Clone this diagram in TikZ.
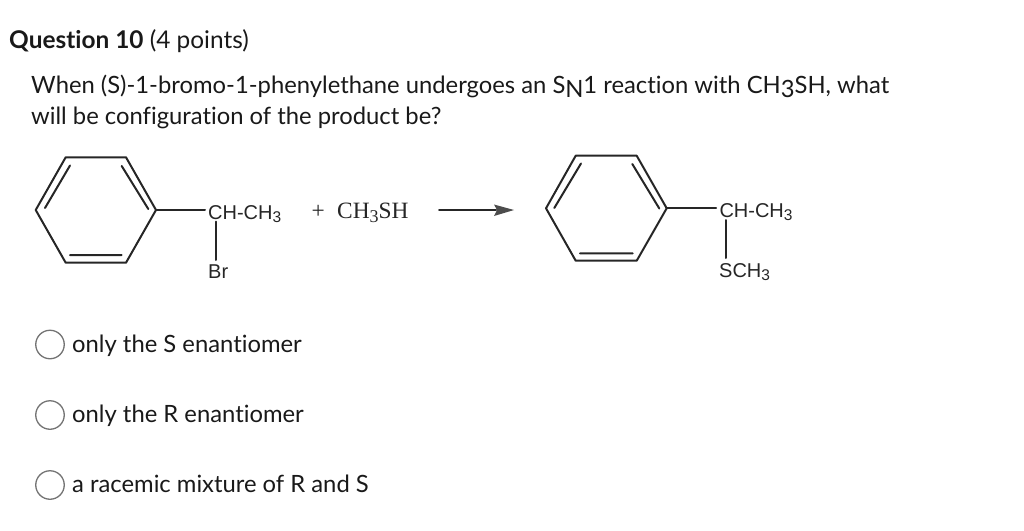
\documentclass[tikz,border=0pt]{standalone}
\usepackage{fontspec}
\setmainfont[Ligatures=NoCommon]{Lato}
\newfontfamily\arialf{Liberation Sans}
\newfontfamily\timesf{Liberation Serif}
\begin{document}
\begin{tikzpicture}[x=1pt,y=-1pt,
  txt/.style={anchor=base west,inner sep=0pt,font=\fontsize{23.8}{28}\selectfont,text=black!90},
  chem/.style={anchor=base west,inner sep=0pt,font=\arialf\fontsize{20}{24}\selectfont,text=black!85},
  rxn/.style={anchor=base west,inner sep=0pt,font=\timesf\fontsize{23.4}{28}\selectfont,text=black!85},
  bond/.style={line width=2pt,black!85,line cap=round,line join=round},
  radio/.style={circle,draw=black!55,line width=1.3pt,fill=white,minimum size=28.5pt,inner sep=0pt}]
\useasboundingbox (0,0) rectangle (1024,530);
% text
\node[txt,font=\fontsize{24.4}{28}\selectfont] (q) at (9,48) {\textbf{Question 10} (4 points)};
\node[txt] (l1) at (31,93) {When (S)-1-bromo-1-phenylethane undergoes an S\raisebox{-4pt}{N}1 reaction with CH\raisebox{-4pt}{3}SH, what};
\node[txt] (l2) at (31,124.5) {will be configuration of the product be?};
% left ring
\coordinate (a1) at (35.7,210); \coordinate (a2) at (65.7,157.3); \coordinate (a3) at (126,157.3);
\coordinate (a4) at (156,210); \coordinate (a5) at (126,262.7); \coordinate (a6) at (65.7,262.7);
\draw[bond] (a1)--(a2)--(a3)--(a4)--(a5)--(a6)--cycle;
\coordinate (ai1) at (70,165.5); \coordinate (ai2) at (45,208);
\coordinate (ai3) at (121.7,166); \coordinate (ai4) at (148.3,209);
\coordinate (ai5) at (70,255); \coordinate (ai6) at (121.7,255);
\draw[bond] (ai1)--(ai2) (ai3)--(ai4) (ai5)--(ai6);
\node[chem] (ch1) at (208,219) {CH-CH\raisebox{-3pt}{\fontsize{15.5}{16}\selectfont 3}};
\node[chem] (br) at (208,278) {Br};
\coordinate (b1e) at (205,210); \coordinate (v1a) at (216,221.7); \coordinate (v1b) at (216,260);
\draw[bond] (a4)--(b1e) (v1a)--(v1b);
\node[rxn] (plus) at (311.5,218) {+};
\node[rxn] (mesh) at (337,218) {CH\raisebox{-4pt}{\fontsize{18}{18}\selectfont 3}SH};
% arrow
\coordinate (ars) at (439,210); \coordinate (are) at (514,210);
\draw[bond] (ars)--(496,210);
\fill[black!70] (are)--(494,204.5)--(497,210)--(494,216)--cycle;
% right ring
\coordinate (c1) at (546,208.3); \coordinate (c2) at (575.7,155.7); \coordinate (c3) at (636.7,155.7);
\coordinate (c4) at (666.7,208.3); \coordinate (c5) at (636.7,260.7); \coordinate (c6) at (575.7,260.7);
\draw[bond] (c1)--(c2)--(c3)--(c4)--(c5)--(c6)--cycle;
\coordinate (ci1) at (581,163.5); \coordinate (ci2) at (554.3,208);
\coordinate (ci3) at (632.3,164); \coordinate (ci4) at (659.3,208.5);
\coordinate (ci5) at (580,253.3); \coordinate (ci6) at (632.7,253.3);
\draw[bond] (ci1)--(ci2) (ci3)--(ci4) (ci5)--(ci6);
\node[chem] (ch2) at (719.3,217.5) {CH-CH\raisebox{-3pt}{\fontsize{15.5}{16}\selectfont 3}};
\node[chem] (sch) at (719,277) {SCH\raisebox{-3pt}{\fontsize{15.5}{16}\selectfont 3}};
\coordinate (b2e) at (716,208.3); \coordinate (v2a) at (725.7,220); \coordinate (v2b) at (725.7,258);
\draw[bond] (c4)--(b2e) (v2a)--(v2b);
% options
\node[radio] (r1) at (50,344.5) {};
\node[radio] (r2) at (50,415) {};
\node[radio] (r3) at (50,485) {};
\node[txt] (o1) at (72,352.5) {only the S enantiomer};
\node[txt] (o2) at (72,422.5) {only the R enantiomer};
\node[txt] (o3) at (72,492.5) {a racemic mixture of R and S};
\end{tikzpicture}
\end{document}
